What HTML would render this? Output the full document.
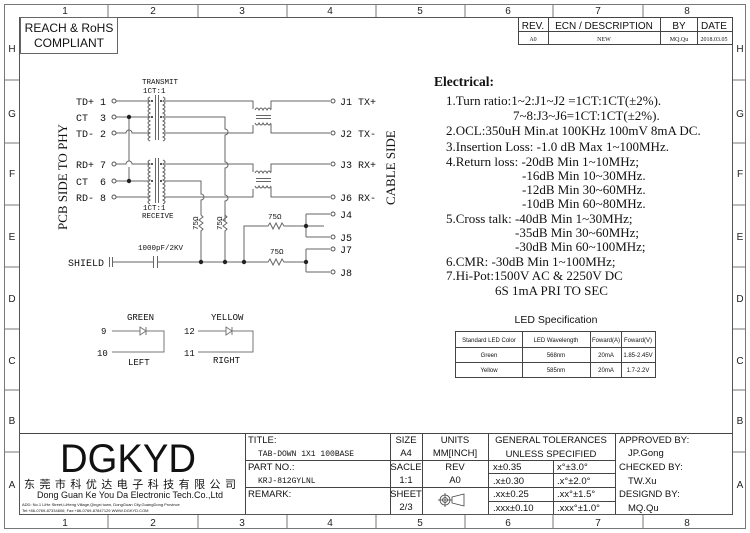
<!DOCTYPE html>
<html><head><meta charset="utf-8"><style>
body{margin:0;background:#fff}
svg{display:block}
.s{font-family:"Liberation Sans",sans-serif}
.m{font-family:"Liberation Mono",monospace}
.r{font-family:"Liberation Serif",serif}
</style></head><body>
<svg width="750" height="533" viewBox="0 0 750 533" xmlns="http://www.w3.org/2000/svg">
<g fill="none" stroke="#777" stroke-width="1">
<rect x="4.5" y="4.5" width="741" height="524"/>
<rect x="19.5" y="17.5" width="713" height="497" stroke="#555"/>
<path d="M108 4v13M198 4v13M287 4v13M376 4v13M465 4v13M553 4v13M643 4v13M108 515v14M198 515v14M287 515v14M376 515v14M465 515v14M553 515v14M643 515v14"/>
<path d="M4 80h15M4 143h15M4 205h15M4 267h15M4 329h15M4 390h15M4 452h15M733 80h13M733 143h13M733 205h13M733 267h13M733 329h13M733 390h13M733 452h13"/>
</g>
<g class="s" font-size="10" fill="#222" text-anchor="middle">
<text x="65" y="14">1</text><text x="153" y="14">2</text><text x="242" y="14">3</text><text x="330" y="14">4</text><text x="420" y="14">5</text><text x="508" y="14">6</text><text x="598" y="14">7</text><text x="687" y="14">8</text>
<text x="65" y="526">1</text><text x="153" y="526">2</text><text x="242" y="526">3</text><text x="330" y="526">4</text><text x="420" y="526">5</text><text x="508" y="526">6</text><text x="598" y="526">7</text><text x="687" y="526">8</text>
<text x="12" y="52">H</text><text x="12" y="117">G</text><text x="12" y="177">F</text><text x="12" y="240">E</text><text x="12" y="302">D</text><text x="12" y="364">C</text><text x="12" y="424">B</text><text x="12" y="488">A</text>
<text x="740" y="52">H</text><text x="740" y="117">G</text><text x="740" y="177">F</text><text x="740" y="240">E</text><text x="740" y="302">D</text><text x="740" y="364">C</text><text x="740" y="424">B</text><text x="740" y="488">A</text>
</g>
<rect x="20.5" y="17.5" width="97" height="36" fill="none" stroke="#666"/>
<g class="s" font-size="12" text-anchor="middle" fill="#111"><text x="69" y="32">REACH &amp; RoHS</text><text x="69" y="47">COMPLIANT</text></g>
<g fill="none" stroke="#444"><rect x="518.5" y="17.5" width="214" height="27"/><path d="M518 31.5h214M548.5 17v28M660.5 17v28M697.5 17v28"/></g>
<g class="s" font-size="10" text-anchor="middle" fill="#111"><text x="533" y="29">REV.</text><text x="604" y="29">ECN / DESCRIPTION</text><text x="679" y="29">BY</text><text x="714" y="29">DATE</text></g>
<g class="r" font-size="6" text-anchor="middle" fill="#111"><text x="533" y="41">A0</text><text x="604" y="41">NEW</text><text x="679" y="41">MQ.Qu</text><text x="714" y="41">2018.03.05</text></g>

<g stroke="#666" fill="none" stroke-width="1">
<path d="M116 101h34M116 117h34M116 133h10a3 3 0 0 1 6 0h18M116 164h10a3 3 0 0 1 6 0h18M116 181h34M116 197h34"/>
<path d="M129 117v44M129 167v14"/>
<path d="M150 97q-4 2 0 4q-4 2 0 4q-4 2 0 4q-4 2 0 4q-4 2 0 4q-4 2 0 4q-4 2 0 4q-4 2 0 4q-4 2 0 4q-4 2 0 4q-4 2 0 4"/>
<path d="M163 97q4 2 0 4q4 2 0 4q4 2 0 4q4 2 0 4q4 2 0 4q4 2 0 4q4 2 0 4q4 2 0 4q4 2 0 4q4 2 0 4q4 2 0 4"/>
<path d="M150 160q-4 2 0 4q-4 2 0 4q-4 2 0 4q-4 2 0 4q-4 2 0 4q-4 2 0 4q-4 2 0 4q-4 2 0 4q-4 2 0 4q-4 2 0 4q-4 2 0 4"/>
<path d="M163 160q4 2 0 4q4 2 0 4q4 2 0 4q4 2 0 4q4 2 0 4q4 2 0 4q4 2 0 4q4 2 0 4q4 2 0 4q4 2 0 4q4 2 0 4"/>
<path d="M155.5 95v45M158.5 95v45M155.5 158v45M158.5 158v45"/>
<path d="M165 101h88v8M165 133h88v-8M165 117h60v12a3 3 0 0 1 0 6v27a3 3 0 0 1 0 6v27a3 3 0 0 1 0 6v20"/>
<path d="M165 164h88v8M165 197h88v-8M165 181h36v13a3 3 0 0 1 0 6v15"/>
<path d="M255 110q2-4 4 0q2-4 4 0q2-4 4 0q2-4 4 0M255 123q2 4 4 0q2 4 4 0q2 4 4 0q2 4 4 0M256 115.5h15M256 118.5h15"/>
<path d="M255 173q2-4 4 0q2-4 4 0q2-4 4 0q2-4 4 0M255 186q2 4 4 0q2 4 4 0q2 4 4 0q2 4 4 0M256 178.5h15M256 181.5h15"/>
<path d="M271 109v-8h59M271 124v9h59M271 172v-8h59M271 187v10h59"/>
<path d="M201 215l2 2-4 3 4 3-4 3 4 3-2 2v31M225 215l2 2-4 3 4 3-4 3 4 3-2 2v31"/>
<path d="M244 262v-36h24l2-3 3 6 3-6 3 6 3-6 2 3h40M306 214v23"/>
<path d="M306 214h24M306 237h24M306 249h24M306 272h24M306 249v23"/>
<path d="M244 262h24l2-3 3 6 3-6 3 6 3-6 2 3h22"/>
<path d="M109.5 257v10M112.5 257v10M113 262h40M153.5 256v12M157.5 256v12M158 262h86"/>
</g>
<g fill="#222"><circle cx="129" cy="117" r="2.2"/><circle cx="129" cy="181" r="2.2"/><circle cx="201" cy="262" r="2.2"/><circle cx="225" cy="262" r="2.2"/><circle cx="244" cy="262" r="2.2"/><circle cx="306" cy="226" r="2.2"/><circle cx="306" cy="262" r="2.2"/>
<circle cx="152" cy="101" r="1"/><circle cx="152" cy="117" r="1"/><circle cx="161" cy="101" r="1"/><circle cx="161" cy="117" r="1"/><circle cx="152" cy="164" r="1"/><circle cx="152" cy="181" r="1"/><circle cx="161" cy="164" r="1"/><circle cx="161" cy="181" r="1"/></g>
<g fill="#fff" stroke="#555"><circle cx="114" cy="101" r="2"/><circle cx="114" cy="117" r="2"/><circle cx="114" cy="133" r="2"/><circle cx="114" cy="164" r="2"/><circle cx="114" cy="181" r="2"/><circle cx="114" cy="197" r="2"/>
<circle cx="333" cy="101" r="2"/><circle cx="333" cy="133" r="2"/><circle cx="333" cy="164" r="2"/><circle cx="333" cy="197" r="2"/><circle cx="333" cy="214" r="2"/><circle cx="333" cy="237" r="2"/><circle cx="333" cy="249" r="2"/><circle cx="333" cy="272" r="2"/></g>
<g class="m" font-size="10" fill="#111">
<text x="76" y="105">TD+</text><text x="100" y="105">1</text>
<text x="76" y="121">CT</text><text x="100" y="121">3</text>
<text x="76" y="137">TD-</text><text x="100" y="137">2</text>
<text x="76" y="168">RD+</text><text x="100" y="168">7</text>
<text x="76" y="185">CT</text><text x="100" y="185">6</text>
<text x="76" y="201">RD-</text><text x="100" y="201">8</text>
<text x="340" y="105">J1 TX+</text><text x="340" y="137">J2 TX-</text><text x="340" y="168">J3 RX+</text><text x="340" y="201">J6 RX-</text>
<text x="340" y="218">J4</text><text x="340" y="241">J5</text><text x="340" y="253">J7</text><text x="340" y="276">J8</text>
<text x="68" y="266">SHIELD</text>
</g>
<g class="m" font-size="7.5" fill="#111">
<text x="142" y="84">TRANSMIT</text><text x="143" y="93">1CT:1</text>
<text x="143" y="210">1CT:1</text><text x="142" y="218">RECEIVE</text>
<text x="138" y="250">1000pF/2KV</text><text x="268" y="219">75Ω</text><text x="270" y="254">75Ω</text>
<text transform="translate(198 230) rotate(-90)">75Ω</text><text transform="translate(222 230) rotate(-90)">75Ω</text>
</g>
<text class="r" font-size="13" fill="#111" transform="translate(67 230) rotate(-90)">PCB SIDE TO PHY</text>
<text class="r" font-size="13" fill="#111" transform="translate(395 205) rotate(-90)">CABLE SIDE</text>

<g stroke="#777" fill="none"><path d="M112 331h28M146 331h18v21h-52M198 331h28M232 331h21v21h-55M140 327v8l6-4z M146 327v8M226 327v8l6-4zM232 327v8"/></g>
<g class="m" font-size="9" fill="#111"><text x="101" y="334">9</text><text x="97" y="356">10</text><text x="184" y="334">12</text><text x="184" y="356">11</text>
<text x="127" y="320">GREEN</text><text x="211" y="320">YELLOW</text><text x="128" y="365">LEFT</text><text x="213" y="363">RIGHT</text></g>

<g class="r" font-size="13" fill="#111">
<text x="434" y="86" font-weight="bold" font-size="13.5">Electrical:</text>
<text x="446" y="105">1.Turn ratio:1~2:J1~J2 =1CT:1CT(±2%).</text>
<text x="513" y="120">7~8:J3~J6=1CT:1CT(±2%).</text>
<text x="446" y="135">2.OCL:350uH Min.at 100KHz 100mV 8mA DC.</text>
<text x="446" y="151">3.Insertion Loss: -1.0 dB Max 1~100MHz.</text>
<text x="446" y="166">4.Return loss: -20dB Min 1~10MHz;</text>
<text x="522" y="180">-16dB Min 10~30MHz.</text>
<text x="522" y="194">-12dB Min 30~60MHz.</text>
<text x="522" y="208">-10dB Min 60~80MHz.</text>
<text x="446" y="223">5.Cross talk: -40dB Min 1~30MHz;</text>
<text x="515" y="237">-35dB Min 30~60MHz;</text>
<text x="515" y="251">-30dB Min 60~100MHz;</text>
<text x="446" y="266">6.CMR: -30dB Min 1~100MHz;</text>
<text x="446" y="280">7.Hi-Pot:1500V AC &amp; 2250V DC</text>
<text x="495" y="295">6S 1mA PRI TO SEC</text>
</g>
<text class="s" x="556" y="323" font-size="10.5" text-anchor="middle" fill="#111">LED Specification</text>
<g fill="none" stroke="#444"><rect x="455.5" y="331.5" width="200" height="46"/><path d="M455 347.5h200M455 362.5h200M522.5 331v46M590.5 331v46M621.5 331v46"/></g>
<g class="s" font-size="6" text-anchor="middle" fill="#111"><text x="489" y="342">Standard LED Color</text><text x="556" y="342">LED Wavelength</text><text x="606" y="342">Foward(A)</text><text x="638" y="342">Foward(V)</text>
<text x="489" y="357">Green</text><text x="556" y="357">568nm</text><text x="606" y="357">20mA</text><text x="638" y="357">1.85-2.45V</text>
<text x="489" y="372">Yellow</text><text x="556" y="372">585nm</text><text x="606" y="372">20mA</text><text x="638" y="372">1.7-2.2V</text></g>

<g fill="none" stroke="#444"><path d="M20 433.5h713M245.5 433v81M390.5 433v81M422.5 433v81M488.5 433v81M615.5 433v81M553.5 460v54M245 460.5h243M245 487.5h243M488 460.5h127M488 473.5h127M488 487.5h127M488 501.5h127"/></g>
<text class="s" x="128" y="472" font-size="40" text-anchor="middle" fill="#111" textLength="136" lengthAdjust="spacingAndGlyphs">DGKYD</text>
<text x="24" y="488" font-size="11" fill="#111" textLength="212" lengthAdjust="spacing" font-family="'Noto Sans CJK SC',sans-serif">东莞市科优达电子科技有限公司</text>
<text class="s" x="130" y="498" font-size="9" text-anchor="middle" fill="#111">Dong Guan Ke You Da Electronic Tech.Co.,Ltd</text>
<text class="s" x="22" y="506" font-size="4" fill="#111">ADD: No.1 LiHe Street,LiHeng Village,Qingxi town, DongGuan City,GuangDong Province</text>
<text class="s" x="22" y="512" font-size="4" fill="#111">Tel:+86-0769-87334606; Fax:+86-0769-87847129  WWW.DGKYD.COM</text>
<g class="s" font-size="9.5" fill="#111">
<text x="248" y="443">TITLE:</text><text x="248" y="470">PART NO.:</text><text x="248" y="497">REMARK:</text>
<text x="406" y="443" text-anchor="middle">SIZE</text><text x="406" y="456" text-anchor="middle">A4</text>
<text x="406" y="470" text-anchor="middle">SACLE</text><text x="406" y="483" text-anchor="middle">1:1</text>
<text x="406" y="497" text-anchor="middle">SHEET</text><text x="406" y="510" text-anchor="middle">2/3</text>
<text x="455" y="443" text-anchor="middle">UNITS</text><text x="455" y="456" text-anchor="middle">MM[INCH]</text>
<text x="455" y="470" text-anchor="middle">REV</text><text x="455" y="483" text-anchor="middle">A0</text>
<text x="551" y="443" text-anchor="middle">GENERAL TOLERANCES</text><text x="551" y="457" text-anchor="middle">UNLESS SPECIFIED</text>
<text x="493" y="470">x±0.35</text><text x="493" y="484">.x±0.30</text><text x="493" y="497">.xx±0.25</text><text x="493" y="511">.xxx±0.10</text>
<text x="557" y="470">x°±3.0°</text><text x="557" y="484">.x°±2.0°</text><text x="557" y="497">.xx°±1.5°</text><text x="557" y="511">.xxx°±1.0°</text>
<text x="619" y="443">APPROVED BY:</text><text x="628" y="456">JP.Gong</text>
<text x="619" y="470">CHECKED BY:</text><text x="628" y="484">TW.Xu</text>
<text x="619" y="497">DESIGND BY:</text><text x="628" y="511">MQ.Qu</text>
</g>
<g class="m" font-size="8" fill="#111"><text x="258" y="456">TAB-DOWN 1X1 100BASE</text><text x="258" y="483">KRJ-812GYLNL</text></g>
<g fill="none" stroke="#444" stroke-width="0.8"><circle cx="445" cy="500" r="5"/><circle cx="445" cy="500" r="2.5"/><path d="M438 500h14M445 493v14M452 497l12-3v12l-12-3z"/></g>
</svg>
</body></html>
